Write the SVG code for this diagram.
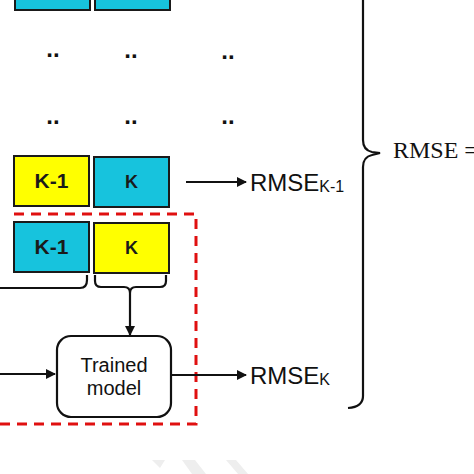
<svg xmlns="http://www.w3.org/2000/svg" width="474" height="474" viewBox="0 0 474 474">
<style>
.box{stroke:#1a1a1a;stroke-width:2}
.cy{fill:#17C3DD}
.ye{fill:#FFFF00}
.lbl{font-family:"Liberation Sans",Arial,sans-serif;font-weight:bold;fill:#1a1a1a;text-anchor:middle}
.dots{font-family:"Liberation Sans",Arial,sans-serif;font-weight:bold;font-size:24px;fill:#111;text-anchor:middle}
.rm{font-family:"Liberation Sans",Arial,sans-serif;fill:#111}
.ln{fill:none;stroke:#111;stroke-width:2.2}
.red{fill:none;stroke:#E01010;stroke-width:3;stroke-dasharray:10,7}
</style>
<defs>
<marker id="ah" markerWidth="10" markerHeight="10" refX="9" refY="5" orient="auto" markerUnits="userSpaceOnUse">
<path d="M0,0 L10,5 L0,10 Z" fill="#111"/>
</marker>
</defs>
<g id="watermark" fill="#eeeeee">
<path d="M152,460 L165,460 L160,468 Z"/>
<path d="M182,460 L195,460 L206,474 L192,474 Z"/>
<path d="M226,460 L236,460 L248,474 L238,474 Z"/>
</g>
<g id="top-row">
<rect class="box cy" x="15" y="-10" width="75" height="20"/>
<rect class="box cy" x="95" y="-10" width="75" height="20"/>
</g>
<g id="dots">
<text class="dots" x="53" y="57">..</text>
<text class="dots" x="131" y="58">..</text>
<text class="dots" x="228" y="59">..</text>
<text class="dots" x="53" y="124">..</text>
<text class="dots" x="131" y="124">..</text>
<text class="dots" x="228" y="124">..</text>
</g>
<g id="row-k1">
<rect class="box ye" x="14" y="156" width="75" height="50"/>
<text class="lbl" x="51.5" y="188" font-size="21">K-1</text>
<rect class="box cy" x="94" y="157" width="75" height="50"/>
<text class="lbl" x="131.5" y="188" font-size="18">K</text>
</g>
<g id="row-k">
<rect class="box cy" x="14" y="222" width="75" height="50"/>
<text class="lbl" x="51.5" y="254" font-size="21">K-1</text>
<rect class="box ye" x="94" y="223" width="75" height="50"/>
<text class="lbl" x="131.5" y="254" font-size="18">K</text>
</g>
<g id="red-box">
<path class="red" d="M0,424 H196 V214 H12"/>
</g>
<g id="trained-model">
<rect x="57" y="336" width="114" height="81" rx="14" ry="14" fill="#fff" stroke="#111" stroke-width="2.2"/>
<text class="rm" x="114" y="372" font-size="20" text-anchor="middle">Trained</text>
<text class="rm" x="114" y="395" font-size="20" text-anchor="middle">model</text>
</g>
<g id="rmse-k1">
<text class="rm" x="250" y="191" font-size="24">RMSE<tspan font-size="16" dy="1">K-1</tspan></text>
</g>
<g id="rmse-k">
<text class="rm" x="250" y="384" font-size="24">RMSE<tspan font-size="16" dy="1">K</tspan></text>
</g>
<g id="rmse-total">
<text x="393" y="158" font-family="'Liberation Serif','Times New Roman',serif" font-size="24" fill="#111">RMSE =</text>
</g>
<g id="connectors">
<path class="ln" d="M186,182 H246" marker-end="url(#ah)"/>
<path class="ln" d="M0,288 H80 Q87,288 87,280 V275"/>
<path class="ln" d="M95,275 V281 Q95,287 101,287 H124 Q130,287 130,293 Q130,287 136,287 H160 Q166,287 166,281 V275"/>
<path class="ln" d="M130,293 V335" marker-end="url(#ah)"/>
<path class="ln" d="M0,374 H55" marker-end="url(#ah)"/>
<path class="ln" d="M171,375 H246" marker-end="url(#ah)"/>
<path class="ln" d="M363,0 V140 Q363,150 372,152 L380,153 L372,155 Q363,157 363,167 V396 Q363,407 348,408"/>
</g>
</svg>
